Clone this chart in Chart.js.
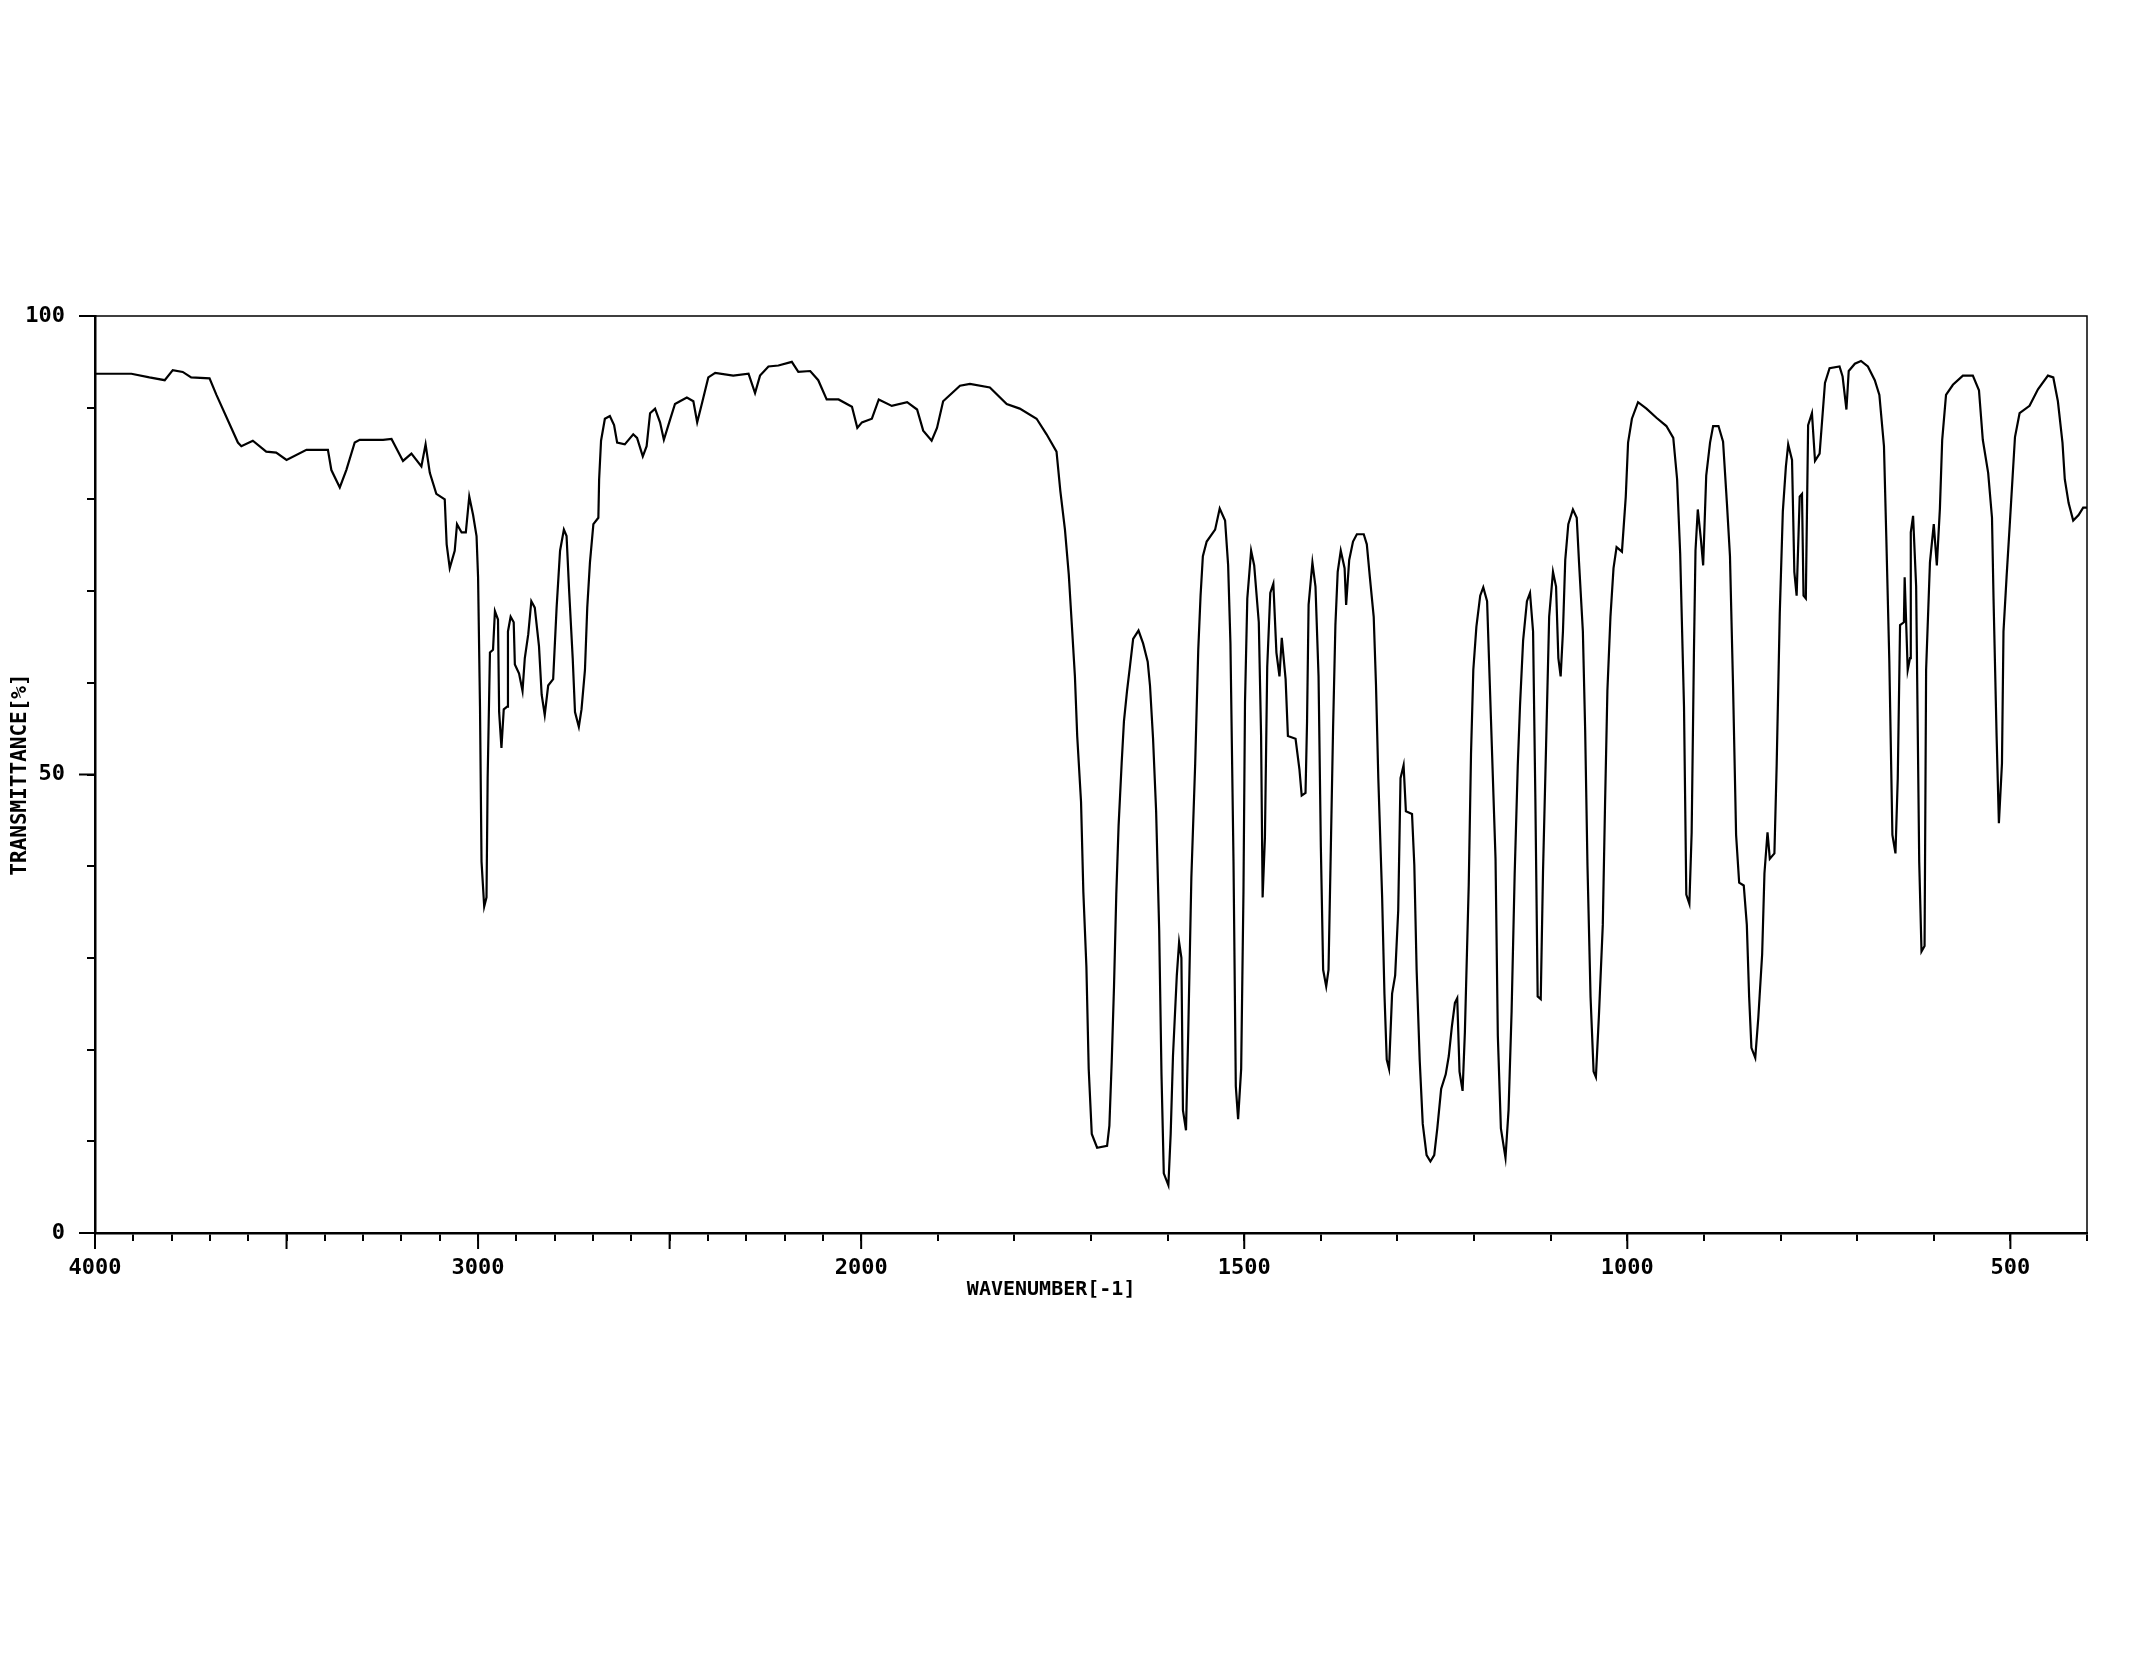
<!DOCTYPE html>
<html>
<head>
<meta charset="utf-8">
<title>IR spectrum</title>
<script src="https://cdn.jsdelivr.net/npm/chart.js@4.4.1/dist/chart.umd.min.js"></script>
<style>
  html, body { margin: 0; padding: 0; background: #fff; }
  canvas { display: block; }
</style>
</head>
<body>
<canvas id="irChart" width="2139" height="1659"></canvas>
<script>
// ================= DATA =================
const wavenumbers = [
  4000, 3905, 3858, 3818, 3797, 3771, 3749, 3701, 3683, 3627, 3618, 3588, 3553, 3527, 3500, 3448,
  3392, 3383, 3361, 3344, 3322, 3309, 3248, 3226, 3196, 3174, 3148, 3137, 3126, 3109, 3087, 3082,
  3074, 3061, 3055, 3043, 3032, 3023, 3013, 3004, 3000, 2995, 2991, 2984, 2978, 2975, 2969, 2961,
  2956, 2948, 2945, 2939, 2933, 2924, 2922, 2915, 2907, 2904, 2893, 2884, 2878, 2869, 2861, 2852,
  2841, 2834, 2826, 2817, 2804, 2795, 2786, 2776, 2769, 2762, 2753, 2747, 2737, 2730, 2721, 2715,
  2708, 2699, 2686, 2684, 2679, 2669, 2656, 2645, 2637, 2617, 2595, 2585, 2570, 2560, 2551, 2538,
  2525, 2515, 2501, 2486, 2473, 2455, 2438, 2428, 2416, 2399, 2381, 2334, 2294, 2277, 2264, 2242,
  2216, 2181, 2164, 2133, 2112, 2090, 2059, 2024, 2010, 1999, 1986, 1977, 1960, 1940, 1927, 1919,
  1908, 1901, 1893, 1871, 1858, 1832, 1810, 1793, 1771, 1758, 1745, 1740, 1734, 1729, 1725, 1721,
  1718, 1713, 1710, 1706, 1703, 1699, 1692, 1679, 1676, 1673, 1670, 1667, 1664, 1660, 1657, 1653,
  1649, 1645, 1638, 1632, 1626, 1623, 1619, 1615, 1611, 1608, 1605, 1599, 1596, 1593, 1588, 1585,
  1582, 1580, 1576, 1573, 1569, 1564, 1560, 1557, 1554, 1549, 1538, 1532, 1525, 1521, 1518, 1514,
  1511, 1508, 1504, 1501, 1499, 1496, 1491, 1487, 1481, 1478, 1476, 1473, 1470, 1466, 1462, 1458,
  1454, 1451, 1446, 1443, 1433, 1428, 1425, 1420, 1418, 1416, 1411, 1407, 1403, 1400, 1397, 1393,
  1390, 1387, 1384, 1381, 1378, 1374, 1369, 1367, 1363, 1358, 1353, 1344, 1340, 1336, 1331, 1328,
  1325, 1320, 1317, 1314, 1311, 1307, 1303, 1299, 1296, 1292, 1289, 1281, 1278, 1275, 1271, 1267,
  1262, 1257, 1252, 1248, 1243, 1237, 1233, 1229, 1225, 1222, 1219, 1215, 1212, 1207, 1204, 1201,
  1197, 1192, 1188, 1183, 1178, 1172, 1169, 1165, 1159, 1155, 1151, 1147, 1143, 1140, 1136, 1131,
  1127, 1123, 1120, 1117, 1113, 1110, 1106, 1102, 1097, 1093, 1090, 1087, 1084, 1081, 1077, 1071,
  1066, 1063, 1058, 1055, 1052, 1048, 1044, 1041, 1037, 1032, 1029, 1026, 1022, 1018, 1014, 1007,
  1002, 999, 994, 986, 975, 962, 949, 940, 935, 931, 926, 923, 919, 916, 913, 911,
  908, 904, 901, 897, 892, 888, 881, 875, 870, 866, 862, 858, 854, 848, 844, 841,
  838, 833, 829, 824, 821, 817, 814, 808, 805, 801, 797, 793, 790, 785, 782, 779,
  775, 772, 770, 767, 764, 759, 755, 749, 742, 736, 723, 719, 714, 711, 703, 695,
  686, 677, 671, 665, 662, 658, 654, 650, 647, 644, 639, 638, 634, 631, 630, 627,
  623, 619, 616, 612, 610, 605, 600, 596, 592, 589, 584, 575, 562, 549, 541, 536,
  529, 524, 522, 518, 515, 511, 509, 505, 501, 497, 494, 488, 475, 464, 451, 444,
  438, 432, 429, 424, 418, 411, 405, 400
];

const transmittance = [
  93.7, 93.7, 93.3, 93.0, 94.1, 93.9, 93.3, 93.2, 91.4, 86.2, 85.8, 86.4, 85.2, 85.1, 84.3, 85.4,
  85.4, 83.2, 81.3, 83.2, 86.2, 86.5, 86.5, 86.6, 84.2, 85.0, 83.6, 86.0, 82.9, 80.6, 80.0, 75.1,
  72.5, 74.4, 77.3, 76.4, 76.4, 80.3, 78.3, 76.0, 71.5, 57.4, 40.5, 35.6, 36.6, 49.6, 63.3, 63.6,
  67.8, 66.9, 56.8, 52.9, 57.1, 57.4, 65.6, 67.2, 66.6, 62.0, 61.0, 59.1, 62.7, 65.3, 68.9, 68.2,
  64.0, 58.7, 56.5, 59.7, 60.4, 68.2, 74.4, 76.7, 76.0, 69.8, 62.7, 56.8, 55.2, 57.1, 61.4, 68.2,
  73.1, 77.3, 78.0, 82.2, 86.4, 88.8, 89.1, 88.1, 86.2, 86.0, 87.1, 86.7, 84.7, 85.8, 89.4, 89.9,
  88.4, 86.5, 88.4, 90.4, 90.7, 91.1, 90.7, 88.4, 90.4, 93.3, 93.8, 93.5, 93.7, 91.6, 93.5, 94.5,
  94.6, 95.0, 93.9, 94.0, 93.0, 90.9, 90.9, 90.1, 87.8, 88.4, 88.8, 90.9, 90.2, 90.6, 89.8, 87.5,
  86.4, 87.8, 90.7, 92.4, 92.6, 92.2, 90.4, 89.9, 88.8, 87.1, 85.2, 80.9, 76.7, 71.8, 66.3, 60.7,
  54.2, 47.0, 37.2, 29.0, 17.9, 10.8, 9.3, 9.5, 11.7, 18.6, 26.8, 36.9, 44.4, 51.2, 55.8, 59.1,
  61.9, 64.8, 65.7, 64.3, 62.3, 59.7, 53.9, 46.0, 33.0, 17.3, 6.5, 5.2, 10.8, 19.3, 28.1, 31.7,
  30.0, 13.4, 11.2, 22.2, 38.8, 51.2, 63.6, 69.5, 73.8, 75.4, 76.7, 79.0, 77.7, 72.8, 64.3, 40.5,
  16.0, 12.4, 17.9, 37.2, 57.8, 69.2, 74.4, 72.8, 66.6, 54.2, 36.6, 43.1, 61.7, 69.8, 70.8, 63.3,
  60.7, 64.9, 60.4, 54.2, 53.9, 50.6, 47.7, 48.0, 55.8, 68.5, 73.1, 70.5, 60.7, 42.1, 28.7, 26.9,
  28.7, 41.8, 55.2, 66.3, 72.1, 74.4, 72.5, 68.5, 73.4, 75.4, 76.2, 76.2, 75.1, 71.5, 67.2, 59.7,
  49.6, 36.6, 26.1, 18.9, 17.9, 26.1, 28.1, 35.2, 49.6, 51.0, 46.0, 45.7, 40.1, 28.7, 18.9, 11.9,
  8.5, 7.8, 8.5, 11.4, 15.7, 17.3, 19.3, 22.5, 25.1, 25.6, 17.6, 15.5, 21.9, 37.9, 52.2, 61.4,
  66.1, 69.5, 70.4, 68.9, 56.1, 40.8, 21.5, 11.4, 8.2, 13.4, 24.2, 39.2, 50.9, 57.6, 64.6, 68.9,
  69.8, 65.6, 47.3, 25.8, 25.5, 39.5, 53.2, 67.2, 72.1, 70.5, 62.7, 60.7, 65.6, 73.4, 77.3, 78.9,
  78.0, 73.1, 65.6, 54.8, 40.1, 25.8, 17.6, 17.0, 23.8, 33.6, 47.0, 59.1, 67.2, 72.5, 74.8, 74.3,
  80.3, 86.2, 88.8, 90.6, 89.9, 88.9, 88.0, 86.7, 82.2, 74.1, 57.4, 36.9, 35.9, 43.7, 63.6, 74.4,
  78.9, 75.7, 72.8, 82.6, 86.2, 88.0, 88.0, 86.3, 79.6, 73.8, 59.7, 43.4, 38.2, 37.9, 33.6, 25.8,
  20.2, 19.1, 23.5, 30.4, 39.2, 43.7, 40.8, 41.4, 51.2, 67.6, 78.7, 83.6, 86.0, 84.3, 72.1, 69.5,
  80.3, 80.6, 69.5, 69.2, 88.1, 89.4, 84.2, 85.0, 92.7, 94.3, 94.5, 93.4, 89.8, 94.0, 94.8, 95.1,
  94.5, 93.0, 91.4, 85.8, 76.0, 62.3, 43.4, 41.4, 49.6, 66.3, 66.6, 71.5, 61.4, 62.7, 76.4, 78.2,
  70.5, 40.5, 30.7, 31.3, 61.4, 73.1, 77.3, 72.8, 79.0, 86.5, 91.4, 92.5, 93.5, 93.5, 91.9, 86.5,
  82.9, 78.0, 69.2, 54.2, 44.7, 51.2, 65.6, 71.5, 77.0, 82.6, 86.8, 89.4, 90.2, 92.0, 93.5, 93.3,
  90.7, 86.2, 82.2, 79.6, 77.7, 78.3, 79.1, 79.1
];

const xTickLabels = [4000, 3000, 2000, 1500, 1000, 500];
const xLongTicks = [4000, 3500, 3000, 2500, 2000, 1500, 1000, 500];
const yTickLabels = [0, 50, 100];

const X_MIN = 400;
const X_MAX = 4000;
const X_BREAK = 2000; // above this the axis is compressed by half

// ================= BROKEN X SCALE =================
function fold(v) {
  return v > X_BREAK ? X_BREAK + (v - X_BREAK) / 2 : v;
}
function unfold(u) {
  return u > X_BREAK ? X_BREAK + (u - X_BREAK) * 2 : u;
}

class BrokenScale extends Chart.LinearScale {
  getPixelForValue(value) {
    const hi = fold(this.max);
    const lo = fold(this.min);
    return this.left + (hi - fold(value)) / (hi - lo) * this.width;
  }
  getValueForPixel(pixel) {
    const hi = fold(this.max);
    const lo = fold(this.min);
    return unfold(hi - (pixel - this.left) / this.width * (hi - lo));
  }
}
BrokenScale.id = "broken";
BrokenScale.defaults = Chart.LinearScale.defaults;
Chart.register(BrokenScale);

// ================= FRAME / LONG TICKS =================
const framePlugin = {
  id: "frame",
  afterDraw(chart) {
    const { ctx, chartArea, scales } = chart;
    ctx.save();
    ctx.strokeStyle = "#000";

    ctx.lineWidth = 1.5;
    ctx.strokeRect(chartArea.left, chartArea.top, chartArea.right - chartArea.left, chartArea.bottom - chartArea.top);

    ctx.lineWidth = 2;
    ctx.beginPath();
    xLongTicks.forEach(v => {
      const px = scales.x.getPixelForValue(v);
      ctx.moveTo(px, chartArea.bottom);
      ctx.lineTo(px, chartArea.bottom + 16);
    });
    yTickLabels.forEach(v => {
      const py = scales.y.getPixelForValue(v);
      ctx.moveTo(chartArea.left, py);
      ctx.lineTo(chartArea.left - 16, py);
    });
    ctx.stroke();

    // x axis title sits a little left of centre in the original
    ctx.fillStyle = "#000";
    ctx.font = "bold 20px 'DejaVu Sans Mono'";
    ctx.textAlign = "center";
    ctx.textBaseline = "middle";
    ctx.fillText("WAVENUMBER[-1]", chartArea.left + (chartArea.right - chartArea.left) * 0.48, chartArea.bottom + 57);
    ctx.restore();
  },
};

// ================= CHART =================
Chart.defaults.font.family = "'DejaVu Sans Mono', monospace";
Chart.defaults.font.weight = "bold";
Chart.defaults.color = "#000";

const points = wavenumbers.map((w, i) => ({ x: w, y: transmittance[i] }));

new Chart(document.getElementById("irChart"), {
  type: "line",
  data: {
    datasets: [
      {
        label: "Transmittance",
        data: points,
        borderColor: "#000",
        borderWidth: 2.2,
        pointRadius: 0,
        tension: 0,
        fill: false,
      },
    ],
  },
  options: {
    responsive: false,
    animation: false,
    devicePixelRatio: 1,
    layout: { padding: { top: 316, right: 52, bottom: 0, left: 0 } },
    plugins: {
      legend: { display: false },
      tooltip: { enabled: false },
    },
    scales: {
      x: {
        type: "broken",
        min: X_MIN,
        max: X_MAX,
        afterFit: s => { s.height = 426; },
        border: { color: "#000", width: 2.5 },
        grid: { drawOnChartArea: false, drawTicks: true, tickLength: 8, color: "#000", lineWidth: 2 },
        ticks: {
          stepSize: 100,
          autoSkip: false,
          maxRotation: 0,
          padding: 14,
          font: { size: 22, weight: "bold" },
          callback: v => (xTickLabels.includes(Math.round(v)) ? String(Math.round(v)) : ""),
        },
      },
      y: {
        min: 0,
        max: 100,
        afterFit: s => { s.width = 95; },
        border: { color: "#000", width: 2.5 },
        grid: { drawOnChartArea: false, drawTicks: true, tickLength: 8, color: "#000", lineWidth: 2 },
        ticks: {
          stepSize: 10,
          autoSkip: false,
          padding: 22,
          font: { size: 22, weight: "bold" },
          callback: v => (yTickLabels.includes(Math.round(v)) ? String(Math.round(v)) : ""),
        },
        title: {
          display: true,
          text: "TRANSMITTANCE[%]",
          font: { size: 21, weight: "bold" },
          padding: { top: 8, bottom: 0 },
        },
      },
    },
  },
  plugins: [framePlugin],
});
</script>
</body>
</html>
